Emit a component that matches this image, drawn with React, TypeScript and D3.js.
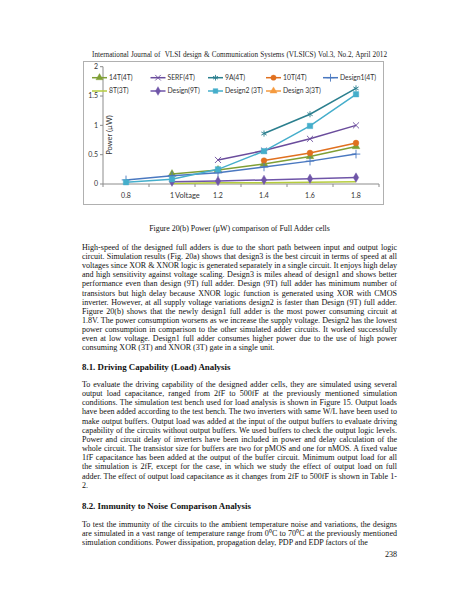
import * as d3 from 'd3';
import { useEffect, useRef } from 'react';

const PAGE_W = 474;
const PAGE_H = 613;

// chart data (power in µW vs supply voltage)
const VOLTAGES = ['0.8', '1', '1.2', '1.4', '1.6', '1.8'];
const Y_TICKS = [0, 0.5, 1, 1.5, 2];

const T14 = [null, 0.17, 0.24, 0.34, 0.47, 0.64];
const SERF = [null, null, 0.41, 0.57, 0.77, 1.0];
const A9 = [null, null, null, 0.86, 1.19, 1.63];
const T10 = [null, null, null, 0.4, 0.53, 0.7];
const DESIGN1 = [0.07, 0.14, 0.19, 0.29, 0.39, 0.51];
const T8 = [null, 0.01, 0.02, 0.02, 0.03, 0.04];
const DESIGN9 = [null, 0.04, 0.05, 0.07, 0.09, 0.11];
const DESIGN2 = [0.03, 0.08, 0.25, 0.56, 0.99, 1.53];
const DESIGN3: (number | null)[] = [null, null, null, null, null, null];

type Series = { name: string; values: (number | null)[]; color: string; symbol: d3.SymbolType | null; stroke: boolean };

const SERIES: Series[] = [
    { name: '14T(4T)', values: T14, color: '#7f9f35', symbol: d3.symbolTriangle, stroke: false },
    { name: 'SERF(4T)', values: SERF, color: '#6a4c9c', symbol: d3.symbolTimes, stroke: true },
    { name: '9A(4T)', values: A9, color: '#2b7f8e', symbol: d3.symbolAsterisk, stroke: true },
    { name: '10T(4T)', values: T10, color: '#e0701f', symbol: d3.symbolCircle, stroke: false },
    { name: 'Design1(4T)', values: DESIGN1, color: '#4a78c0', symbol: d3.symbolPlus, stroke: true },
    { name: '8T(3T)', values: T8, color: '#b5cc3c', symbol: null, stroke: false },
    { name: 'Design(9T)', values: DESIGN9, color: '#6f55a8', symbol: d3.symbolDiamond, stroke: false },
    { name: 'Design2 (3T)', values: DESIGN2, color: '#45aecb', symbol: d3.symbolSquare, stroke: false },
    { name: 'Design 3(3T)', values: DESIGN3, color: '#f59a3e', symbol: d3.symbolTriangle, stroke: false },
];

// page text
const HEADER = 'International Journal of  VLSI design & Communication Systems (VLSICS) Vol.3, No.2, April 2012';
const CAPTION = 'Figure 20(b) Power (µW) comparison of Full Adder cells';

const PARA1 = [
    'High-speed of the designed full adders is due to the short path between input and output logic',
    'circuit. Simulation results (Fig. 20a) shows that design3 is the best circuit in terms of speed at all',
    'voltages since XOR & XNOR logic is generated separately in a single circuit. It enjoys high delay',
    'and high sensitivity against voltage scaling. Design3 is miles ahead of design1 and shows better',
    'performance even than design (9T) full adder. Design (9T) full adder has minimum number of',
    'transistors but high delay because XNOR logic function is generated using XOR with CMOS',
    'inverter. However, at all supply voltage variations design2 is faster than Design (9T) full adder.',
    'Figure 20(b) shows that the newly design1 full adder is the most power consuming circuit at',
    '1.8V. The power consumption worsens as we increase the supply voltage. Design2 has the lowest',
    'power consumption in comparison to the other simulated adder circuits. It worked successfully',
    'even at low voltage. Design1 full adder consumes higher power due to the use of high power',
    'consuming XOR (3T) and XNOR (3T) gate in a single unit.',
];
const HEAD1 = '8.1. Driving Capability (Load) Analysis';
const PARA2 = [
    'To evaluate the driving capability of the designed adder cells, they are simulated using several',
    'output load capacitance, ranged from 2fF to 500fF at the previously mentioned simulation',
    'conditions. The simulation test bench used for load analysis is shown in Figure 15. Output loads',
    'have been added according to the test bench. The two inverters with same W/L have been used to',
    'make output buffers. Output load was added at the input of the output buffers to evaluate driving',
    'capability of the circuits without output buffers. We used buffers to check the output logic levels.',
    'Power and circuit delay of inverters have been included in power and delay calculation of the',
    'whole circuit. The transistor size for buffers are two for pMOS and one for nMOS. A fixed value',
    '1fF capacitance has been added at the output of the buffer circuit. Minimum output load for all',
    'the simulation is 2fF, except for the case, in which we study the effect of output load on full',
    'adder. The effect of output load capacitance as it changes from 2fF to 500fF is shown in Table 1-',
    '2.',
];
const HEAD2 = '8.2. Immunity to Noise Comparison Analysis';
const PARA3 = [
    'To test the immunity of the circuits to the ambient temperature noise and variations, the designs',
    'are simulated in a vast range of temperature range from 0⁰C to 70⁰C at the previously mentioned',
    'simulation conditions. Power dissipation, propagation delay, PDP and EDP factors of the',
];
const PAGE_NO = '238';

const SERIF = '"Liberation Serif", "Times New Roman", serif';
const SANS = 'Lato, "Open Sans", sans-serif';
const BODY_SIZE = '8.05px';

export default function App() {
    const svgRef = useRef<SVGSVGElement | null>(null);

    useEffect(() => {
        if (!svgRef.current) return;
        const svg = d3.select(svgRef.current);
        svg.selectAll('*').remove();

        svg.append('rect').attr('width', PAGE_W).attr('height', PAGE_H).attr('fill', '#fff');

        const textLeft = 82;
        const textWidth = 315;

        // stretch a line to a given width by widening its word gaps
        const justify = (t: d3.Selection<SVGTextElement, unknown, null, undefined>, width: number, str: string) => {
            const natural = t.node()!.getComputedTextLength();
            const gaps = (str.match(/ /g) || []).length;
            if (gaps > 0) t.style('word-spacing', `${Math.max(-0.6, (width - natural) / gaps)}px`);
        };

        // running header
        const header = svg.append('text')
            .attr('x', 92)
            .attr('y', 56.5)
            .style('font-family', SERIF)
            .style('font-size', '7.2px')
            .style('white-space', 'pre')
            .attr('fill', '#222')
            .text(HEADER);
        justify(header as any, 295, HEADER);

        // ---- chart ----
        const frame = { x: 83, y: 61, w: 300, h: 143 };
        svg.append('rect')
            .attr('x', frame.x + 0.5)
            .attr('y', frame.y + 0.5)
            .attr('width', frame.w)
            .attr('height', frame.h)
            .attr('fill', '#fff')
            .attr('stroke', '#b0b0b0');

        const plot = { left: 103, right: 379, top: 66.7, bottom: 184 };
        const xBand = d3.scaleBand().domain(VOLTAGES).range([plot.left, plot.right]);
        const xScale = (v: string) => xBand(v)! + xBand.bandwidth() / 2;
        const yScale = d3.scaleLinear().domain([0, 2]).range([plot.bottom, plot.top]);

        const axisColor = '#8c8c8c';
        const g = svg.append('g');

        // y axis
        g.append('line')
            .attr('x1', plot.left).attr('x2', plot.left)
            .attr('y1', yScale(2)).attr('y2', yScale(0))
            .attr('stroke', axisColor);
        g.selectAll('.ytick')
            .data(Y_TICKS)
            .join('line')
            .attr('x1', plot.left - 3).attr('x2', plot.left)
            .attr('y1', (d) => yScale(d)).attr('y2', (d) => yScale(d))
            .attr('stroke', axisColor);
        g.selectAll('.ylabel')
            .data(Y_TICKS)
            .join('text')
            .attr('x', plot.left - 5)
            .attr('y', (d) => yScale(d) + 2.4)
            .attr('text-anchor', 'end')
            .style('font-family', SANS)
            .style('font-size', '7px')
            .attr('fill', '#333')
            .text((d) => String(d));

        // x axis
        g.append('line')
            .attr('x1', plot.left).attr('x2', plot.right)
            .attr('y1', plot.bottom).attr('y2', plot.bottom)
            .attr('stroke', axisColor);
        const boundaries = VOLTAGES.map((v) => xBand(v)!).concat([plot.right]);
        g.selectAll('.xtick')
            .data(boundaries)
            .join('line')
            .attr('x1', (d) => d).attr('x2', (d) => d)
            .attr('y1', plot.bottom).attr('y2', plot.bottom + 3)
            .attr('stroke', axisColor);
        g.selectAll('.xlabel')
            .data(VOLTAGES)
            .join('text')
            .attr('x', (d) => xScale(d))
            .attr('y', 198)
            .attr('text-anchor', 'middle')
            .style('font-family', SANS)
            .style('font-size', '7px')
            .attr('fill', '#333')
            .text((d) => d);

        // axis titles
        g.append('text')
            .attr('x', 175)
            .attr('y', 198)
            .style('font-family', SANS)
            .style('font-size', '7.5px')
            .attr('fill', '#333')
            .text('Voltage');
        g.append('text')
            .attr('transform', `translate(111.5, 135) rotate(-90)`)
            .attr('text-anchor', 'middle')
            .style('font-family', SANS)
            .style('font-size', '7.5px')
            .attr('fill', '#333')
            .text('Power (µW)');

        // lines + markers
        const drawMarker = (sel: d3.Selection<SVGGElement, unknown, null, undefined>, s: Series, x: number, y: number, size: number) => {
            if (!s.symbol) return;
            sel.append('path')
                .attr('transform', `translate(${x},${y})`)
                .attr('d', d3.symbol(s.symbol, size)()!)
                .attr('fill', s.stroke ? 'none' : s.color)
                .attr('stroke', s.color)
                .attr('stroke-width', s.stroke ? 0.9 : 0.4);
        };

        SERIES.forEach((s) => {
            const pts = s.values.map((v, i) => ({ v, x: xScale(VOLTAGES[i]) }));
            const line = d3
                .line<{ v: number | null; x: number }>()
                .defined((d) => d.v !== null)
                .x((d) => d.x)
                .y((d) => yScale(d.v as number));
            const sg = g.append('g') as unknown as d3.Selection<SVGGElement, unknown, null, undefined>;
            sg.append('path')
                .attr('d', line(pts)!)
                .attr('fill', 'none')
                .attr('stroke', s.color)
                .attr('stroke-width', 1.5);
            pts.forEach((p) => {
                if (p.v !== null) drawMarker(sg, s, p.x, yScale(p.v), s.symbol === d3.symbolSquare ? 30 : 26);
            });
        });

        // legend (2 rows x 5 columns, overlaid on plot)
        const legendX = [92, 150.5, 208, 266, 323];
        const legendY = [77.7, 91];
        SERIES.forEach((s, i) => {
            const col = i % 5;
            const row = Math.floor(i / 5);
            const lx = legendX[col];
            const ly = legendY[row];
            const lg = g.append('g') as unknown as d3.Selection<SVGGElement, unknown, null, undefined>;
            lg.append('line')
                .attr('x1', lx).attr('x2', lx + 15)
                .attr('y1', ly).attr('y2', ly)
                .attr('stroke', s.color)
                .attr('stroke-width', 1.5);
            drawMarker(lg, s, lx + 7.5, ly, 22);
            lg.append('text')
                .attr('x', lx + 17)
                .attr('y', ly + 2.4)
                .style('font-family', SANS)
                .style('font-size', '6.8px')
                .attr('fill', '#333')
                .text(s.name);
        });

        // ---- body text ----
        svg.append('text')
            .attr('x', 239.5)
            .attr('y', 230.6)
            .attr('text-anchor', 'middle')
            .style('font-family', SERIF)
            .style('font-size', '7.9px')
            .attr('fill', '#111')
            .text(CAPTION);

        const addPara = (lines: string[], startY: number, step: number) => {
            lines.forEach((ln, i) => {
                const t = svg.append('text')
                    .attr('x', textLeft)
                    .attr('y', startY + i * step)
                    .style('font-family', SERIF)
                    .style('font-size', BODY_SIZE)
                    .attr('fill', '#111')
                    .text(ln);
                // justify every line except the last of a paragraph
                if (i < lines.length - 1) justify(t as any, textWidth, ln);
            });
        };

        const heading = (txt: string, y: number) =>
            svg.append('text')
                .attr('x', textLeft)
                .attr('y', y)
                .style('font-family', SERIF)
                .style('font-size', '8.9px')
                .style('font-weight', 'bold')
                .attr('fill', '#111')
                .text(txt);

        addPara(PARA1, 250, 9.1);
        heading(HEAD1, 369.5);
        addPara(PARA2, 387, 9.15);
        heading(HEAD2, 508.5);
        addPara(PARA3, 526.7, 9.1);

        svg.append('text')
            .attr('x', textLeft + textWidth)
            .attr('y', 556.5)
            .attr('text-anchor', 'end')
            .style('font-family', SERIF)
            .style('font-size', BODY_SIZE)
            .attr('fill', '#111')
            .text(PAGE_NO);
    }, []);

    return (
        <svg
            ref={svgRef}
            width={PAGE_W}
            height={PAGE_H}
            style={{ position: 'absolute', left: 0, top: 0, display: 'block' }}
        ></svg>
    );
}
